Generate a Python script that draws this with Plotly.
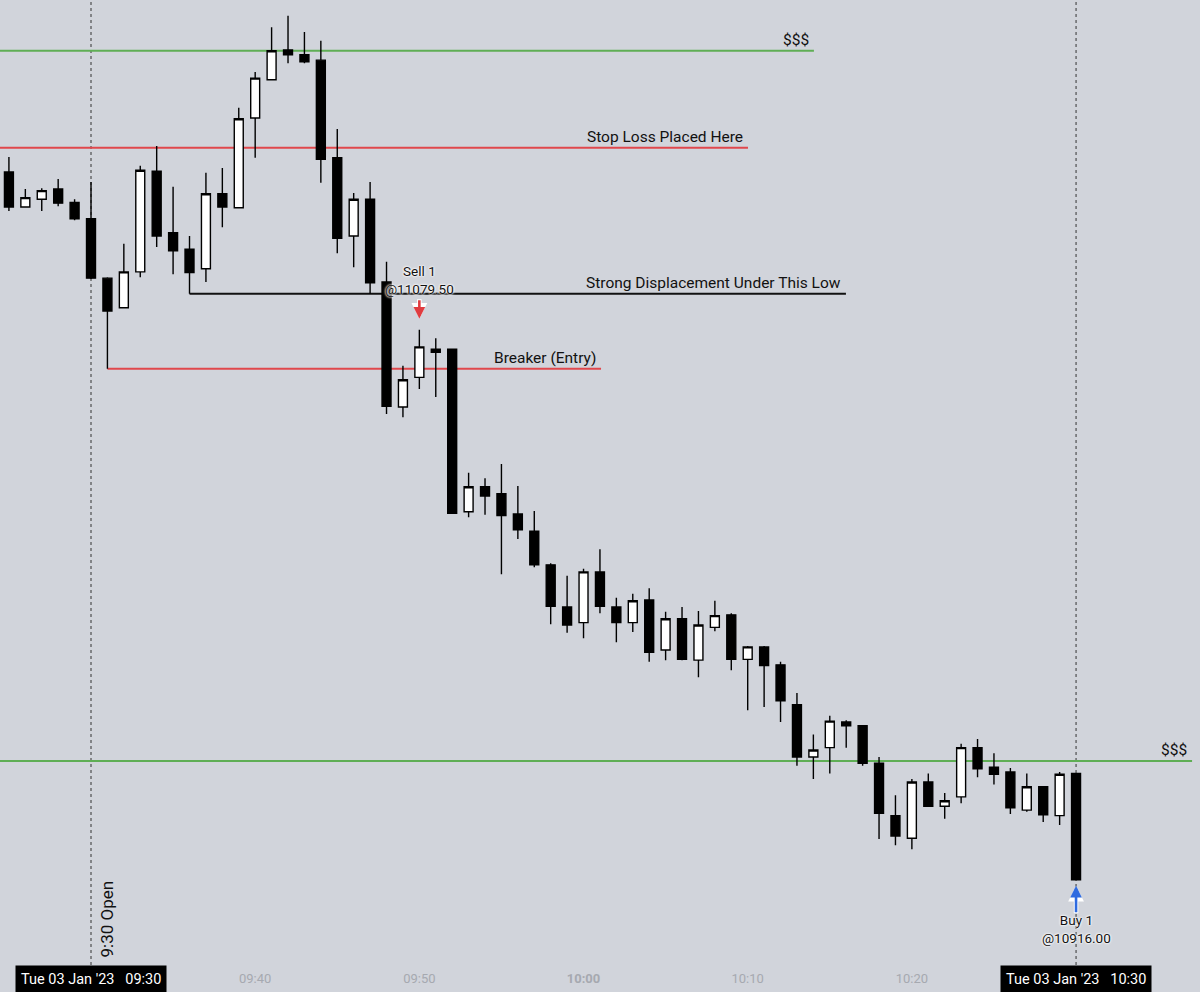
import pandas as pd
import plotly.graph_objects as go

# ---- data -------------------------------------------------------------
times = pd.date_range("2023-01-03 09:25", periods=66, freq="min")

open_ = [11142.5, 11131.25, 11133.75, 11137, 11132.75, 11127.5, 11108.5, 11099, 11110.5, 11142.75,
         11123, 11117.75, 11111.5, 11135.5, 11131, 11159.75, 11172, 11181.5, 11180, 11178.25,
         11147, 11122, 11133.75, 11107.25, 11067.25, 11076.75, 11085.75, 11085.75, 11033.75, 11041.75,
         11039.5, 11033, 11027.5, 11016.75, 11003.25, 10998.25, 11014.5, 11003.25, 10998.25, 11005.5,
         10989.5, 10999.5, 10986.25, 10996.75, 11000.75, 10986.5, 10990.5, 10984.75, 10972, 10955.25,
         10958.25, 10966.5, 10965.25, 10953.25, 10936.5, 10929.25, 10947.25, 10939.5, 10942.5, 10958.25,
         10952, 10950.5, 10938.25, 10945.75, 10936.5, 10950]

high = [11147.25, 11137, 11137.25, 11140.25, 11133.75, 11139.25, 11108.75, 11119.5, 11144.5, 11150.75,
        11137.75, 11122, 11142.25, 11143.75, 11163, 11174.5, 11188.75, 11192.5, 11187.25, 11184.5,
        11156.25, 11135.75, 11139.25, 11113.75, 11080.5, 11092, 11089.25, 11086, 11046.25, 11044.5,
        11049, 11042, 11034, 11017.25, 11013.25, 11015.5, 11021.75, 11006.25, 11007.5, 11009.25,
        11001.75, 11003.25, 11002, 11005.25, 11001.25, 10990.75, 10990.75, 10985.75, 10975.75, 10962.5,
        10968.5, 10967, 10965.5, 10955.25, 10943, 10948.25, 10950, 10943.75, 10959.5, 10961,
        10956.5, 10951.75, 10950, 10946, 10950.5, 10950.25]

low = [11130, 11131, 11130, 11131.5, 11127, 11108.25, 11079.5, 11098.75, 11108.75, 11118.5,
       11109.75, 11103.5, 11107.25, 11124.75, 11130.75, 11147, 11171.75, 11177.25, 11177.25, 11139,
       11116.5, 11112, 11103.5, 11065, 11064, 11073, 11070.5, 11033, 11032, 11032.75,
       11013.75, 11025, 11016, 10997.75, 10995, 10993.25, 11001.25, 10992, 10995.25, 10985.75,
       10986.25, 10986.25, 10980.75, 10995.5, 10983, 10970.25, 10971.25, 10966.5, 10952.5, 10948.25,
       10950, 10958.25, 10952.5, 10929, 10927, 10925.75, 10939.25, 10935.5, 10940.5, 10948.75,
       10946.5, 10937, 10937.75, 10934.5, 10933.5, 10916]

close = [11131.25, 11134.25, 11136.5, 11132.5, 11127.5, 11108.5, 11098, 11110.5, 11143, 11122,
         11117.25, 11110.25, 11135.5, 11131.25, 11159.5, 11172.5, 11181.25, 11180, 11177.75, 11146.5,
         11121.25, 11133.75, 11107, 11067.5, 11076, 11086.5, 11084.75, 11033.25, 11041.75, 11038.75,
         11032.5, 11028, 11016.75, 11003.5, 10997.5, 11014.5, 11003.5, 10998.25, 11005.25, 10988.75,
         10999.5, 10986.5, 10997.5, 11000.5, 10986.5, 10990.5, 10984.5, 10973.25, 10955.25, 10957.5,
         10966.75, 10965.25, 10953.25, 10937.25, 10930, 10947.25, 10939.5, 10941.25, 10958.25, 10951.5,
         10949.75, 10939, 10945.75, 10936.75, 10949.75, 10916]

# horizontal levels: label, price, start, end, colour
level_labels = ["$$$", "Stop Loss Placed Here", "Strong Displacement Under This Low",
                "Breaker (Entry)", "$$$"]
level_prices = [11181.25, 11150.25, 11103.5, 11079.5, 10954]
level_starts = ["2023-01-03 09:24:27", "2023-01-03 09:24:27", "2023-01-03 09:36",
                "2023-01-03 09:31", "2023-01-03 09:24:27"]
level_ends = ["2023-01-03 10:14:02", "2023-01-03 10:10:01", "2023-01-03 10:15:59",
              "2023-01-03 10:01:04", "2023-01-03 10:37:04"]
level_colors = ["#5fae55", "#e0474c", "#111111", "#e0474c", "#5fae55"]

sell_time, sell_price = "2023-01-03 09:50", 11079.50
buy_time, buy_price = "2023-01-03 10:30", 10916.00

tick_vals = ["2023-01-03 09:40", "2023-01-03 09:50", "2023-01-03 10:00",
             "2023-01-03 10:10", "2023-01-03 10:20"]
tick_text = ["09:40", "09:50", "<b>10:00</b>", "10:10", "10:20"]

BG = "#d1d4db"
FONT = "Roboto"

fig = go.Figure(go.Candlestick(
    x=times, open=open_, high=high, low=low, close=close,
    increasing=dict(line=dict(color="black", width=1.4), fillcolor="white"),
    decreasing=dict(line=dict(color="black", width=1.4), fillcolor="black"),
    whiskerwidth=0, hoverinfo="skip", showlegend=False,
))

shapes = []
annotations = []
for lab, p, s, e, c in zip(level_labels, level_prices, level_starts, level_ends, level_colors):
    shapes.append(dict(type="line", xref="x", yref="y", x0=s, x1=e, y0=p, y1=p,
                       line=dict(color=c, width=2), layer="below"))
    annotations.append(dict(x=e, y=p, xref="x", yref="y", text=lab, showarrow=False,
                            xanchor="right", yanchor="bottom", xshift=-3, yshift=0,
                            font=dict(family=FONT, size=15.5, color="#111111")))

# vertical dotted session lines
for t in ["2023-01-03 09:30", "2023-01-03 10:30"]:
    shapes.append(dict(type="line", xref="x", yref="paper", x0=t, x1=t, y0=0, y1=1,
                       line=dict(color="#333333", width=1, dash="dot"), layer="below"))

halo = "0px 0px 2px white, 0px 0px 2px white, 0px 0px 3px white"

# Sell marker
annotations.append(dict(x=sell_time, y=sell_price, xref="x", yref="y", text="",
                        showarrow=True, ax=0, ay=-21, arrowcolor="white", arrowwidth=4.5,
                        arrowhead=2, arrowsize=0.7, yshift=50))
annotations.append(dict(x=sell_time, y=sell_price, xref="x", yref="y", text="",
                        showarrow=True, ax=0, ay=-20, arrowcolor="#e03c40", arrowwidth=2.6,
                        arrowhead=2, arrowsize=0.9, yshift=50))
annotations.append(dict(x=sell_time, y=sell_price, xref="x", yref="y",
                        text="Sell 1<br>@%.2f" % sell_price, showarrow=False,
                        yanchor="bottom", yshift=70, xshift=0,
                        font=dict(family=FONT, size=13.5, color="#111111", shadow=halo)))

# Buy marker
annotations.append(dict(x=buy_time, y=buy_price, xref="x", yref="y", text="",
                        showarrow=True, ax=0, ay=29, arrowcolor="white", arrowwidth=4.5,
                        arrowhead=2, arrowsize=0.7, yshift=-6))
annotations.append(dict(x=buy_time, y=buy_price, xref="x", yref="y", text="",
                        showarrow=True, ax=0, ay=28, arrowcolor="#2f6be0", arrowwidth=2.6,
                        arrowhead=2, arrowsize=0.9, yshift=-6))
annotations.append(dict(x=buy_time, y=buy_price, xref="x", yref="y",
                        text="Buy 1<br>@%.2f" % buy_price, showarrow=False,
                        yanchor="top", yshift=-30,
                        font=dict(family=FONT, size=13.5, color="#111111", shadow=halo)))

# 9:30 Open rotated label
annotations.append(dict(x="2023-01-03 09:30", y=0, xref="x", yref="paper", text="9:30 Open",
                        showarrow=False, textangle=-90, xanchor="left", yanchor="bottom",
                        xshift=3, yshift=5, font=dict(family=FONT, size=17, color="#111111")))

# black time boxes
for t in ["2023-01-03 09:30", "2023-01-03 10:30"]:
    hhmm = t[-5:]
    annotations.append(dict(x=t, y=0, xref="x", yref="paper",
                            text="Tue 03 Jan '23&nbsp;&nbsp;&nbsp;" + hhmm, showarrow=False,
                            yanchor="top", yshift=0, bgcolor="black", borderpad=5,
                            font=dict(family=FONT, size=14.5, color="white")))

fig.update_layout(
    width=1200, height=992,
    margin=dict(l=0, r=0, t=0, b=27),
    paper_bgcolor=BG, plot_bgcolor=BG,
    shapes=shapes, annotations=annotations,
    boxgap=0.22,
    xaxis=dict(range=["2023-01-03 09:24:27.4", "2023-01-03 10:37:33"],
               rangeslider=dict(visible=False), showgrid=False, zeroline=False,
               showline=False, ticks="", tickvals=tick_vals, ticktext=tick_text,
               tickfont=dict(family=FONT, size=13, color="#a6a9b0"), ticklabelstandoff=4),
    yaxis=dict(range=[10888.7, 11197.5], visible=False, showgrid=False),
    hovermode=False,
)

fig.write_html("out.html", config={"displayModeBar": False},
               post_script="document.body.style.margin='0';document.body.style.overflow='hidden';")
